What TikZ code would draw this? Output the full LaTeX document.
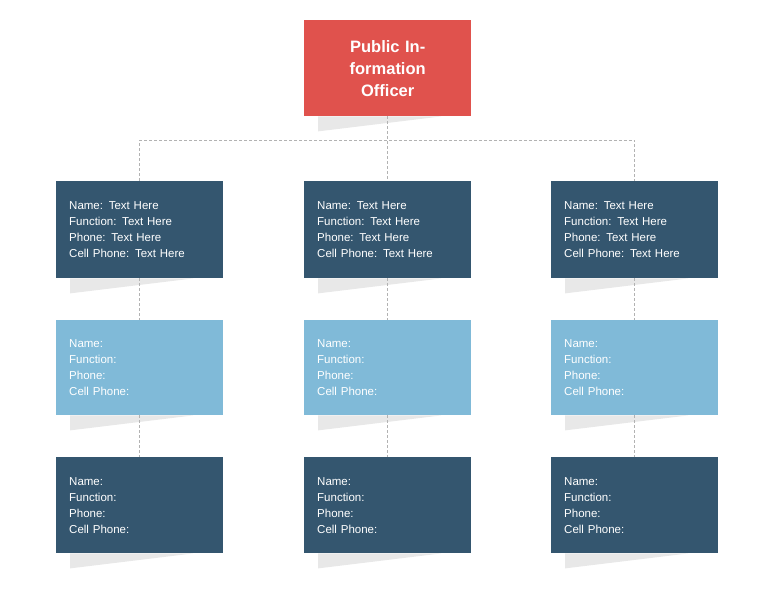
\documentclass[tikz,border=0pt]{standalone}
\usepackage{fontspec}
\setmainfont{Liberation Sans}
\usepackage{tikz}
\definecolor{pioRed}{HTML}{E0524D}
\definecolor{darkBlue}{HTML}{34566F}
\definecolor{lightBlue}{HTML}{80BAD8}
\tikzset{
  card/.style={anchor=north west, minimum width=167pt, minimum height=97pt,
    inner xsep=13pt, text width=141pt, align=left, text=white,
    font=\fontsize{11.5}{16}\selectfont},
  link/.style={draw=gray!60, densely dashed, line width=0.5pt},
  shadowfill/.style={fill=gray!18},
}
\begin{document}
\begin{tikzpicture}[x=1pt, y=-1pt]
  \useasboundingbox (0,0) rectangle (768,607);
  \node[card, fill=pioRed, minimum height=96pt, align=center, text width=141pt,
        font=\bfseries\fontsize{16.5}{22}\selectfont] (pio) at (304,20)
        {Public Information\\Officer};
  \foreach \col/\x in {1/56, 2/304, 3/551} {
    \node[card, fill=darkBlue] (a\col) at (\x,181)
      {Name: Text Here\\Function: Text Here\\Phone: Text Here\\Cell Phone: Text Here};
    \node[card, fill=lightBlue, minimum height=95pt] (b\col) at (\x,320)
      {Name:\\Function:\\Phone:\\Cell Phone:};
    \node[card, fill=darkBlue, minimum height=96pt] (c\col) at (\x,457)
      {Name:\\Function:\\Phone:\\Cell Phone:};
  }
  % shadows under the boxes
  \foreach \bx in {pio, a1, a2, a3, b1, b2, b3, c1, c2, c3} {
    \fill[shadowfill] ([xshift=14pt]\bx.south west) -- ([xshift=-30pt]\bx.south east)
      -- ([xshift=14pt, yshift=-15pt]\bx.south west) -- cycle;
  }
  % connectors
  \draw[link] (pio.south) -- ++(0,24) -| (a1.north);
  \draw[link] (pio.south) -- ++(0,24) -| (a3.north);
  \draw[link] (pio.south) -- (a2.north);
  \foreach \col in {1,2,3} {
    \draw[link] (a\col.south) -- (b\col.north);
    \draw[link] (b\col.south) -- (c\col.north);
  }
\end{tikzpicture}
\end{document}
